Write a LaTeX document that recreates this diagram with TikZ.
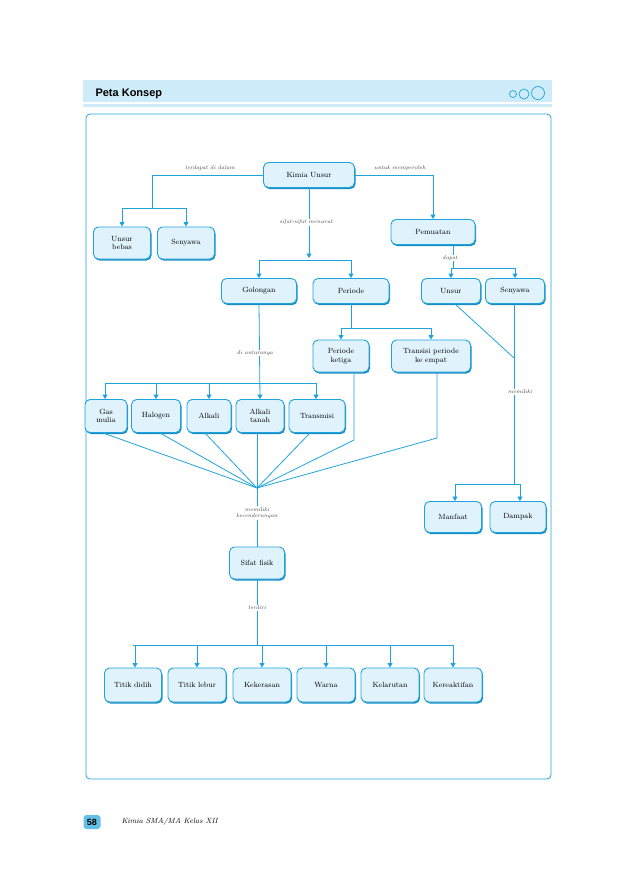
\documentclass[tikz,border=0pt]{standalone}
\usepackage{fontspec}
\newfontfamily\hd{Liberation Sans}
\usetikzlibrary{arrows.meta,calc,shadows}
\definecolor{ln}{HTML}{1FA3DC}
\definecolor{nf}{HTML}{E0F2FB}
\definecolor{sh}{HTML}{1A8CC4}
\definecolor{band}{HTML}{CDEBF9}
\begin{document}
\begin{tikzpicture}[x=1pt,y=-1pt,
 nd/.style={draw=ln,line width=0.9pt,fill=nf,rounded corners=5pt,font=\fontsize{7.5}{8.5}\selectfont,align=center,
   minimum height=#1,inner sep=1pt,
   drop shadow={shadow xshift=1pt,shadow yshift=-1.5pt,fill=sh,opacity=1}},
 nd/.default=25pt,
 c/.style={draw=ln,line width=0.8pt},
 a/.style={c,-{Triangle[length=4.5pt,width=5pt]}},
 lb/.style={fill=white,inner sep=1pt,font=\fontsize{5.5}{6.5}\selectfont\itshape,text=black!75,align=center}]
\useasboundingbox (0,0) rectangle (638,892);
% header
\fill[band] (83,80) rectangle (552,107);
\draw[white,line width=1.2pt] (83,103) -- (552,103);
\node[anchor=west,font=\hd\bfseries\fontsize{11}{12}\selectfont] (title) at (92,94) {Peta Konsep};
\draw[ln,fill=band,line width=0.7pt] (513,94) circle (3.5);
\draw[ln,fill=band,line width=0.7pt] (524,94) circle (5);
\draw[ln,fill=band,line width=0.7pt] (538,93) circle (6.5);
\draw[ln,line width=0.8pt,rounded corners=4pt] (86,114) rectangle (551,779);
% footer
\node[fill=ln!70,rounded corners=3pt,minimum width=17pt,minimum height=14pt,inner sep=1pt,font=\hd\bfseries\fontsize{9}{10}\selectfont] (pg) at (92,822) {58};
\node[anchor=west,font=\fontsize{7.5}{8}\selectfont\itshape] (ft) at (118,822) {Kimia SMA/MA Kelas XII};
% nodes
\node[nd,minimum width=91pt] (ku) at (309,175) {Kimia Unsur};
\node[nd=32pt,minimum width=57pt] (ub) at (122,243) {Unsur\\bebas};
\node[nd=32pt,minimum width=57pt] (s1) at (186,243) {Senyawa};
\node[nd,minimum width=84pt] (pm) at (433,232) {Pemuatan};
\node[nd,minimum width=75pt] (gol) at (259,291) {Golongan};
\node[nd,minimum width=76pt] (per) at (351,291) {Periode};
\node[nd,minimum width=59pt] (un) at (451,291) {Unsur};
\node[nd,minimum width=59pt] (s2) at (515,291) {Senyawa};
\node[nd=32pt,minimum width=56pt] (pk) at (341,356) {Periode\\ketiga};
\node[nd=32pt,minimum width=79pt] (tp) at (431,356) {Transisi periode\\ke empat};
\node[nd=33pt,minimum width=42pt] (gm) at (106,416) {Gas\\mulia};
\node[nd=33pt,minimum width=49pt] (ha) at (156,416) {Halogen};
\node[nd=33pt,minimum width=44pt] (al) at (209,416) {Alkali};
\node[nd=33pt,minimum width=48pt] (at) at (260,416) {Alkali\\tanah};
\node[nd=33pt,minimum width=56pt] (tr) at (317,416) {Transmisi};
\node[nd=31pt,minimum width=57pt] (mf) at (453,517) {Manfaat};
\node[nd=31pt,minimum width=56pt] (dp) at (518,517) {Dampak};
\node[nd=32pt,minimum width=55pt] (sf) at (257,563) {Sifat fisik};
\node[nd=34pt,minimum width=57pt] (b1) at (133,685) {Titik didih};
\node[nd=34pt,minimum width=58pt] (b2) at (197,685) {Titik lebur};
\node[nd=34pt,minimum width=58pt] (b3) at (262,685) {Kekerasan};
\node[nd=34pt,minimum width=58pt] (b4) at (326,685) {Warna};
\node[nd=34pt,minimum width=58pt] (b5) at (390,685) {Kelarutan};
\node[nd=34pt,minimum width=58pt] (b6) at (453,685) {Kereaktifan};
% coordinates
\coordinate (j1) at (152,208);
\coordinate (fan) at (257,488);
\coordinate (j2) at (514,484);
\coordinate (k1) at (354,440);
\coordinate (k2) at (437,438);
\coordinate (ud) at (514,358);
% connectors top
\draw[c] (ku.west) -| (j1);
\draw[a] (j1) -| (ub.north);
\draw[a] (j1) -| (s1.north);
\draw[a] (ku.east) -| (pm.north);
\draw[a] (ku.south) -- (309,258);
\draw[a] (309,260) -| (gol.north);
\draw[a] (309,260) -| (per.north);
\draw[c] (pm.south -| 453,0) -- (453,268);
\draw[a] (453,268) -| (un.north);
\draw[a] (453,268) -| (s2.north);
\draw[c] (per.south) -- (351,328);
\draw[a] (351,328) -| (pk.north);
\draw[a] (351,328) -| (tp.north);
\draw[a] (gol.south) -- (at.north);
\draw[c] (105,383) -- (316,383);
\foreach \n/\x in {gm/105,ha/156,al/209,tr/316}{\draw[a] (\x,383) -- (\n.north -| \x,0);}
\node[lb] (l1) at (210,168) {terdapat di dalam};
\node[lb] (l2) at (400,168) {untuk memperoleh};
\node[lb] (l3) at (306,222) {sifat-sifat menurut};
\node[lb] (l4) at (450,258) {dapat};
\node[lb] (l5) at (255,353) {di antaranya};
% right
\draw[c] ($(un.south)+(4,0)$) -- (ud);
\draw[c] (s2.south -| 514,0) -- (j2);
\draw[a] (j2) -- (455,484) -- (mf.north -| 455,0);
\draw[a] (j2) -- (520,484) -- (dp.north -| 520,0);
\node[lb] (l6) at (520,392) {memiliki};
% fan
\draw[c] (gm.south -| 103,0) -- (fan);
\draw[c] (ha.south -| 160,0) -- (fan);
\draw[c] (al.south -| 205,0) -- (fan);
\draw[c] (at.south -| 257,0) -- (fan);
\draw[c] (tr.south -| 310,0) -- (fan);
\draw[c] (pk.south -| 354,0) -- (k1) -- (fan);
\draw[c] (tp.south -| 437,0) -- (k2) -- (fan);
\draw[c] (fan) -- (sf.north);
\node[lb] (l7) at (257,513) {memiliki\\kecenderungan};
\draw[c] (sf.south) -- (257,645);
\draw[c] (133,645) -- (453,645);
\foreach \n/\x in {b1/135,b2/197,b3/262,b4/326,b5/390,b6/453}{\draw[a] (\x,645) -- (\n.north -| \x,0);}
\node[lb] (l8) at (257,608) {terdiri};
\end{tikzpicture}
\end{document}
